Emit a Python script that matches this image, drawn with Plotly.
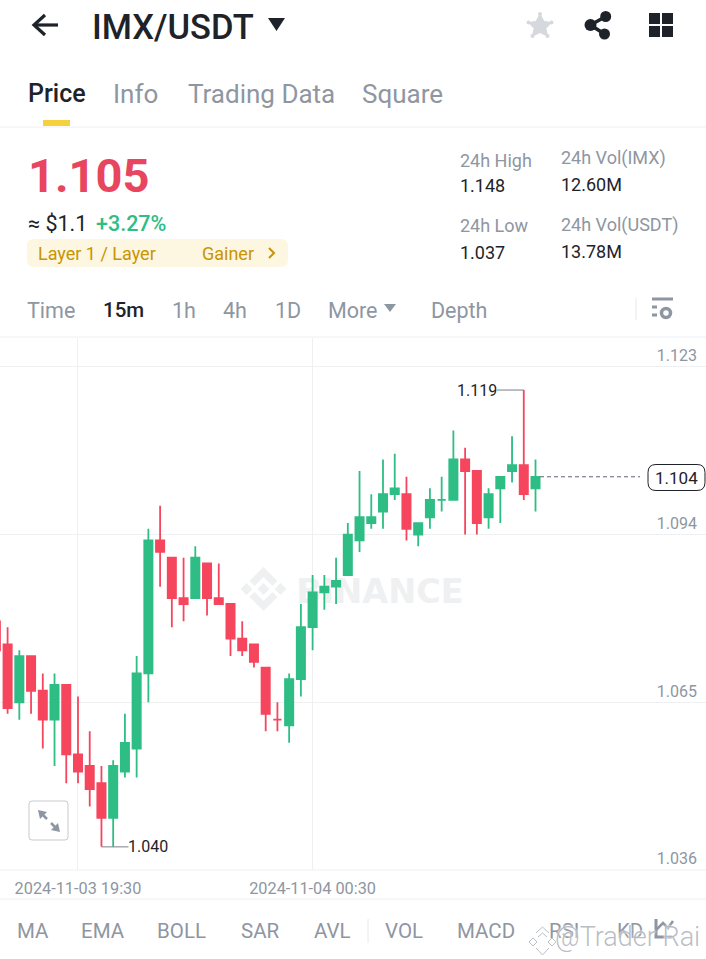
import plotly.graph_objects as go

W, H = 706, 959
FONT = "Roboto"
DARK, GREY, GREEN, RED = "#1E2329", "#8E96A2", "#2EBD85", "#F6465D"
LINE = "#EFF0F2"

times = [
    "2024-11-03 17:45", "2024-11-03 18:00", "2024-11-03 18:15", "2024-11-03 18:30", "2024-11-03 18:45",
    "2024-11-03 19:00", "2024-11-03 19:15", "2024-11-03 19:30", "2024-11-03 19:45", "2024-11-03 20:00",
    "2024-11-03 20:15", "2024-11-03 20:30", "2024-11-03 20:45", "2024-11-03 21:00", "2024-11-03 21:15",
    "2024-11-03 21:30", "2024-11-03 21:45", "2024-11-03 22:00", "2024-11-03 22:15", "2024-11-03 22:30",
    "2024-11-03 22:45", "2024-11-03 23:00", "2024-11-03 23:15", "2024-11-03 23:30", "2024-11-03 23:45",
    "2024-11-04 00:00", "2024-11-04 00:15", "2024-11-04 00:30", "2024-11-04 00:45", "2024-11-04 01:00",
    "2024-11-04 01:15", "2024-11-04 01:30", "2024-11-04 01:45", "2024-11-04 02:00", "2024-11-04 02:15",
    "2024-11-04 02:30", "2024-11-04 02:45", "2024-11-04 03:00", "2024-11-04 03:15", "2024-11-04 03:30",
    "2024-11-04 03:45", "2024-11-04 04:00", "2024-11-04 04:15", "2024-11-04 04:30", "2024-11-04 04:45",
    "2024-11-04 05:00", "2024-11-04 05:15",
]
opens = [1.079, 1.075, 1.065, 1.073, 1.067, 1.062, 1.068, 1.056, 1.054, 1.051, 1.045, 1.053, 1.057, 1.070,
         1.093, 1.090, 1.083, 1.083, 1.089, 1.083, 1.082, 1.076, 1.075, 1.071, 1.062, 1.061, 1.069, 1.078,
         1.084, 1.085, 1.087, 1.093, 1.096, 1.098, 1.101, 1.101, 1.094, 1.097, 1.100, 1.100, 1.107, 1.105,
         1.097, 1.102, 1.105, 1.106, 1.102]
highs = [1.080, 1.078, 1.074, 1.073, 1.070, 1.070, 1.068, 1.066, 1.060, 1.054, 1.055, 1.063, 1.073, 1.095,
         1.099, 1.090, 1.090, 1.092, 1.089, 1.089, 1.082, 1.079, 1.075, 1.071, 1.065, 1.070, 1.082, 1.087,
         1.087, 1.090, 1.096, 1.105, 1.101, 1.107, 1.108, 1.104, 1.096, 1.102, 1.104, 1.112, 1.109, 1.105,
         1.102, 1.104, 1.111, 1.119, 1.107]
lows = [1.070, 1.063, 1.062, 1.063, 1.057, 1.054, 1.051, 1.051, 1.047, 1.040, 1.040, 1.052, 1.052, 1.065,
        1.085, 1.078, 1.079, 1.083, 1.080, 1.082, 1.073, 1.073, 1.071, 1.060, 1.060, 1.058, 1.066, 1.074,
        1.081, 1.082, 1.087, 1.091, 1.095, 1.095, 1.100, 1.093, 1.092, 1.095, 1.098, 1.100, 1.094, 1.094,
        1.095, 1.096, 1.103, 1.100, 1.098]
closes = [1.074, 1.064, 1.073, 1.067, 1.062, 1.068, 1.056, 1.053, 1.050, 1.045, 1.054, 1.058, 1.070, 1.093,
          1.091, 1.083, 1.082, 1.090, 1.083, 1.082, 1.076, 1.074, 1.072, 1.063, 1.062, 1.069, 1.078, 1.084,
          1.085, 1.086, 1.094, 1.097, 1.097, 1.101, 1.102, 1.095, 1.096, 1.100, 1.100, 1.107, 1.105, 1.096,
          1.101, 1.104, 1.106, 1.101, 1.104]
price_ticks = [1.036, 1.065, 1.094, 1.123]
time_ticks = ["2024-11-03 19:30", "2024-11-04 00:30"]
last_price = 1.104
x_range = ["2024-11-03 17:50:17", "2024-11-04 08:53:00"]
y_range = [1.036, 1.128]

tabs = [("Price", 28, DARK, 25), ("Info", 113, GREY, 26), ("Trading Data", 188, GREY, 26), ("Square", 362, GREY, 26)]
frames = [("Time", 27, GREY), ("15m", 103, DARK), ("1h", 172, GREY), ("4h", 223, GREY),
          ("1D", 275, GREY), ("More", 328, GREY), ("Depth", 431, GREY)]
indicators = [("MA", 17), ("EMA", 81), ("BOLL", 157), ("SAR", 241), ("AVL", 314),
              ("VOL", 385), ("MACD", 457), ("RSI", 549), ("KD", 617)]


def px(x):
    return x / W


def py(y):
    return 1 - y / H


def path(points, close=True):
    d = "M" + " L".join(f"{px(a):.5f},{py(b):.5f}" for a, b in points)
    return d + (" Z" if close else "")


ann, shp = [], []


def text(x, y, s, size, color=GREY, anchor="left", weight=400, family=FONT, shadow=None):
    font = dict(family=family, size=size, color=color, weight=weight)
    if shadow:
        font["shadow"] = shadow
    ann.append(dict(xref="paper", yref="paper", x=px(x), y=py(y), text=s, showarrow=False,
                    xanchor=anchor, yanchor="middle", borderpad=0, borderwidth=0, font=font))


def hline(y, x0=0, x1=W, color=LINE, width=1):
    shp.append(dict(type="line", xref="paper", yref="paper", x0=px(x0), x1=px(x1), y0=py(y), y1=py(y),
                    line=dict(color=color, width=width), layer="below"))


def vline(x, y0, y1, color=LINE, width=1):
    shp.append(dict(type="line", xref="paper", yref="paper", x0=px(x), x1=px(x), y0=py(y0), y1=py(y1),
                    line=dict(color=color, width=width), layer="below"))


def poly(points, fill=None, color=None, width=0, close=True, layer="above"):
    shp.append(dict(type="path", xref="paper", yref="paper", path=path(points, close), layer=layer,
                    fillcolor=fill if fill else "rgba(0,0,0,0)",
                    line=dict(color=color if color else "rgba(0,0,0,0)", width=width)))


def rrect(x0, y0, x1, y1, r, fill=None, color=None, width=0, layer="above"):
    def P(a, b):
        return f"{px(a):.5f},{py(b):.5f}"
    d = (f"M{P(x0 + r, y0)} L{P(x1 - r, y0)} Q{P(x1, y0)} {P(x1, y0 + r)} L{P(x1, y1 - r)} "
         f"Q{P(x1, y1)} {P(x1 - r, y1)} L{P(x0 + r, y1)} Q{P(x0, y1)} {P(x0, y1 - r)} "
         f"L{P(x0, y0 + r)} Q{P(x0, y0)} {P(x0 + r, y0)} Z")
    shp.append(dict(type="path", xref="paper", yref="paper", path=d, layer=layer,
                    fillcolor=fill if fill else "rgba(0,0,0,0)",
                    line=dict(color=color if color else "rgba(0,0,0,0)", width=width)))


def circle(cx, cy, r, fill=None, color=None, width=0):
    shp.append(dict(type="circle", xref="paper", yref="paper", x0=px(cx - r), x1=px(cx + r),
                    y0=py(cy - r), y1=py(cy + r), fillcolor=fill if fill else "rgba(0,0,0,0)",
                    line=dict(color=color if color else "rgba(0,0,0,0)", width=width)))


# ---- header
poly([(58, 25), (35, 25)], color=DARK, width=3.2, close=False)
poly([(45, 15), (34, 25), (45, 35)], color=DARK, width=3.2, close=False)
text(92, 27, "IMX/USDT", 34.5, DARK, weight=500)
poly([(268, 18), (285, 18), (276.5, 31)], fill=DARK)
star = [(540, 14), (544, 21.5), (551.5, 22.5), (545.8, 28.5), (547.5, 36), (540, 32.5), (532.5, 36),
        (534.2, 28.5), (528.5, 22.5), (536, 21.5)]
poly(star, fill="#D5D8DC", color="#D5D8DC", width=1)
for a, b in star[::2]:
    circle(a, b, 2, fill="#D5D8DC")
circle(605.7, 16.5, 5.5, fill=DARK)
circle(604.5, 34, 5.5, fill=DARK)
circle(590.5, 25, 6, fill=DARK)
poly([(605.7, 16.5), (590.5, 25), (604.5, 34)], color=DARK, width=3.5, close=False)
for a, b in [(649, 13), (662, 13), (649, 26), (662, 26)]:
    poly([(a, b), (a + 11, b), (a + 11, b + 11), (a, b + 11)], fill=DARK)

# ---- tabs
for s, x, c, z in tabs:
    text(x, 94, s, z, c, weight=500 if c == DARK else 400)
poly([(43, 120), (70, 120), (70, 126), (43, 126)], fill="#F6D13E")
hline(127)

# ---- price block
text(28, 175, "1.105", 47, "#E8455F", weight=700)
text(28, 224, "≈ $1.1", 21.5, DARK)
text(96, 224, "+3.27%", 21.5, GREEN, weight=500)
rrect(27, 239, 288, 267, 7, fill="#FDF6E1")
text(38, 253, "Layer 1 / Layer", 18, "#C99400")
vline(185, 248, 258, color="#EADCB0", width=1)
text(202, 253, "Gainer", 18, "#C99400")
poly([(269, 248), (274, 253), (269, 258)], color="#C99400", width=2, close=False)

for x, y, s, c, z in [(460, 160, "24h High", GREY, 18), (460, 185, "1.148", DARK, 18),
                      (460, 226, "24h Low", GREY, 18), (460, 252, "1.037", DARK, 18),
                      (561, 158, "24h Vol(IMX)", GREY, 18), (561, 184, "12.60M", DARK, 18),
                      (561, 225, "24h Vol(USDT)", GREY, 18), (561, 251, "13.78M", DARK, 18)]:
    text(x, y, s, z, c)

# ---- timeframe row
for s, x, c in frames:
    text(x, 310, s, 20.5 if c == DARK else 21.5, c, weight=500 if c == DARK else 400)
poly([(384, 304), (396, 304), (390, 312)], fill=GREY)
vline(636, 298, 320, color="#E6E8EA")
poly([(652, 299), (673, 299)], color=GREY, width=3, close=False)
poly([(652, 307), (657, 307)], color=GREY, width=3, close=False)
poly([(652, 315), (657, 315)], color=GREY, width=3, close=False)
circle(666, 313, 4.5, color=GREY, width=3.5)
hline(337)

# ---- watermark behind the candles
for pts in [[(263.5, 583), (269.5, 589), (263.5, 595), (257.5, 589)],
            [(246.5, 583), (252.5, 589), (246.5, 595), (240.5, 589)],
            [(280.5, 583), (286.5, 589), (280.5, 595), (274.5, 589)],
            [(263.5, 567), (277.5, 581), (272.5, 586), (263.5, 577), (254.5, 586), (249.5, 581)],
            [(263.5, 611), (277.5, 597), (272.5, 592), (263.5, 601), (254.5, 592), (249.5, 597)]]:
    poly(pts, fill="#EFF0F1", layer="below")
shp.append(dict(type="rect", xref="paper", yref="paper", x0=px(292), x1=px(468), y0=py(572), y1=py(606),
                layer="below", line=dict(width=0), fillcolor="rgba(0,0,0,0)",
                label=dict(text="BINANCE", textposition="middle center",
                           font=dict(family="DejaVu Sans", size=33.5, color="#EFF0F1", weight=700))))

# ---- chart frame + last price
hline(870)
hline(899)
shp.append(dict(type="line", xref="paper", yref="y", x0=px(540), x1=px(640), y0=last_price, y1=last_price,
                line=dict(color="#5F6670", width=1, dash="4px,3px")))
rrect(648, 464.5, 705, 490.5, 8, fill="#FFFFFF", color=DARK, width=1)
text(676.5, 478, f"{last_price:.3f}", 17, DARK, anchor="center")

# ---- high / low leaders, tied to the data
i_high = highs.index(max(highs))
i_low = lows.index(min(lows))
ann.append(dict(x=times[i_high], y=max(highs), xref="x", yref="y", text=f"{max(highs):.3f}", showarrow=True,
                ax=-27, ay=0, arrowwidth=1, arrowcolor="#7A7F87", arrowhead=0, standoff=0, xanchor="right",
                borderpad=0, borderwidth=0, font=dict(family=FONT, size=16, color=DARK)))
ann.append(dict(x=times[i_low], y=min(lows), xref="x", yref="y", text=f"{min(lows):.3f}", showarrow=True,
                ax=27, ay=0, arrowwidth=1, arrowcolor="#7A7F87", arrowhead=0, standoff=0, xanchor="left",
                borderpad=0, borderwidth=0, font=dict(family=FONT, size=16, color=DARK)))

# ---- expand button
rrect(29, 801, 68, 840, 3, fill="#FFFFFF", color="#C6CAD0", width=1)
poly([(38, 810), (47, 812), (40, 819)], fill="#8E96A2")
poly([(60, 832), (51, 830), (58, 823)], fill="#8E96A2")
poly([(41, 813), (47, 819)], color="#8E96A2", width=2.5, close=False)
poly([(51, 823), (57, 829)], color="#8E96A2", width=2.5, close=False)

# ---- indicator row
for s, x in indicators:
    text(x, 931, s, 20.5, GREY)
vline(368, 919, 943, color="#E6E8EA")
poly([(656, 919), (656, 937), (672, 937)], color=GREY, width=3, close=False)
poly([(656, 930), (663, 923), (668, 928), (673, 921)], color=GREY, width=2.5, close=False)

# ---- photo credit overlay
LOGO = "rgba(178,184,192,0.9)"
poly([(533, 938), (537, 942), (533, 946), (529, 942)], color=LOGO, width=1)
poly([(552, 938), (556, 942), (552, 946), (548, 942)], color=LOGO, width=1)
poly([(536, 933), (542.5, 927), (549, 933)], color=LOGO, width=1, close=False)
poly([(538, 937), (542.5, 933), (547, 937)], color=LOGO, width=1, close=False)
poly([(536, 948), (542.5, 955), (549, 948)], color=LOGO, width=1, close=False)
text(555, 937, "@Trader Rai", 27, "rgba(172,178,186,0.85)", weight=300, shadow="0 0 2px #fff, 0 0 3px #fff")

fig = go.Figure(go.Candlestick(
    x=times, open=opens, high=highs, low=lows, close=closes, whiskerwidth=0,
    increasing=dict(line=dict(color=GREEN, width=1.8), fillcolor=GREEN),
    decreasing=dict(line=dict(color=RED, width=1.8), fillcolor=RED),
    hoverinfo="skip", showlegend=False,
))

fig.update_layout(
    width=W, height=H, margin=dict(l=0, r=0, t=0, b=0), paper_bgcolor="#FFFFFF", plot_bgcolor="#FFFFFF",
    boxgap=0.3, boxgroupgap=0, showlegend=False, annotations=ann, shapes=shp,
    font=dict(family=FONT),
    xaxis=dict(domain=[0, 1], range=x_range, type="date", rangeslider=dict(visible=False),
               tickvals=time_ticks, tickformat="%Y-%m-%d %H:%M", showgrid=True, gridcolor=LINE, gridwidth=1,
               ticks="", zeroline=False, showline=False, ticklabelstandoff=7,
               tickfont=dict(family=FONT, size=16.3, color=GREY), anchor="y"),
    yaxis=dict(domain=[py(870), py(338)], range=y_range, side="right", tickvals=price_ticks,
               tickformat=".3f", showgrid=True, gridcolor=LINE, gridwidth=1, ticks="", zeroline=False,
               showline=False, ticklabelposition="inside top", ticklabelstandoff=6,
               tickfont=dict(family=FONT, size=16, color=GREY), anchor="x"),
)
fig.write_html("out.html", config=dict(displayModeBar=False),
               post_script="document.body.style.margin='0';document.body.style.overflow='hidden';")
